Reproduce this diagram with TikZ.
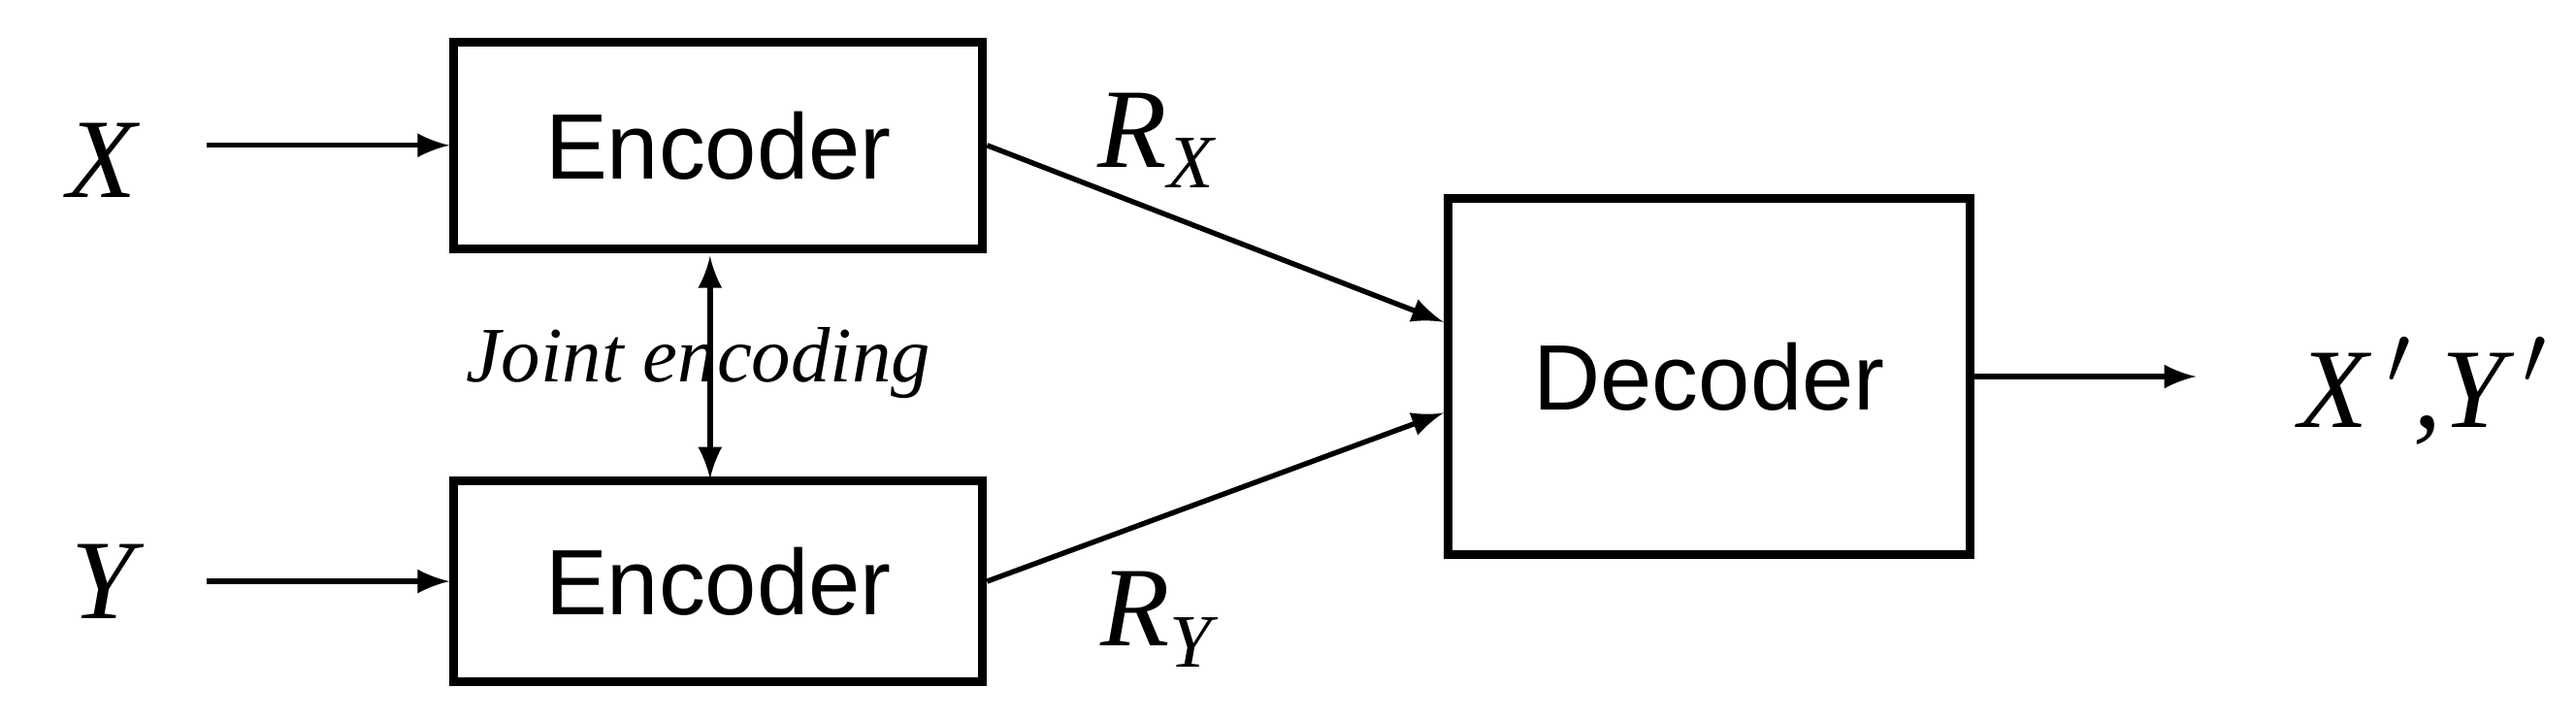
\documentclass[tikz,border=0pt]{standalone}
\usepackage{fontspec}
\setmainfont{Liberation Serif}
\setsansfont{Liberation Sans}
\begin{document}
\begin{tikzpicture}[x=0.01cm,y=-0.01cm,
 box/.style={draw,line width=1.5pt,font=\sffamily\fontsize{16}{20}\selectfont,inner sep=0},
 var/.style={font=\itshape\fontsize{19.5}{24}\selectfont},
 arr/.style={-latex,line width=0.9pt}]
\useasboundingbox (0,0) rectangle (1560,436);
\node[box,minimum width=3.2cm,minimum height=1.25cm] (e1) at (435,88) {Encoder};
\node[box,minimum width=3.2cm,minimum height=1.22cm] (e2) at (435,352) {Encoder};
\node[box,minimum width=3.16cm,minimum height=2.15cm] (d) at (1035,228) {Decoder};
\node[var] (x) at (62,97) {X};
\node[var] (y) at (62,352) {Y};
\coordinate (xs) at (125,88);
\coordinate (ys) at (125,352);
\draw[arr] (xs) -- (e1.west);
\draw[arr] (ys) -- (e2.west);
\draw[arr] (e1.east) -- (d.west |- 0,195);
\draw[arr] (e2.east) -- (d.west |- 0,250);
\draw[latex-latex,line width=0.9pt] (430,155) -- (430,290);
\node[font=\itshape\fontsize{13.5}{16}\selectfont] (je) at (423,220) {Joint encoding};
\node[var] (rx) at (700,85) {R\raisebox{-0.4ex}{\fontsize{13}{16}\selectfont X}};
\node[var] (ry) at (700,375) {R\raisebox{-0.4ex}{\fontsize{13}{16}\selectfont Y}};
\coordinate (out) at (1330,228);
\draw[arr] (d.east) -- (out);
\node[var,anchor=west] (xy) at (1380,237) {X\,$'$,Y\,$'$};
\end{tikzpicture}
\end{document}
